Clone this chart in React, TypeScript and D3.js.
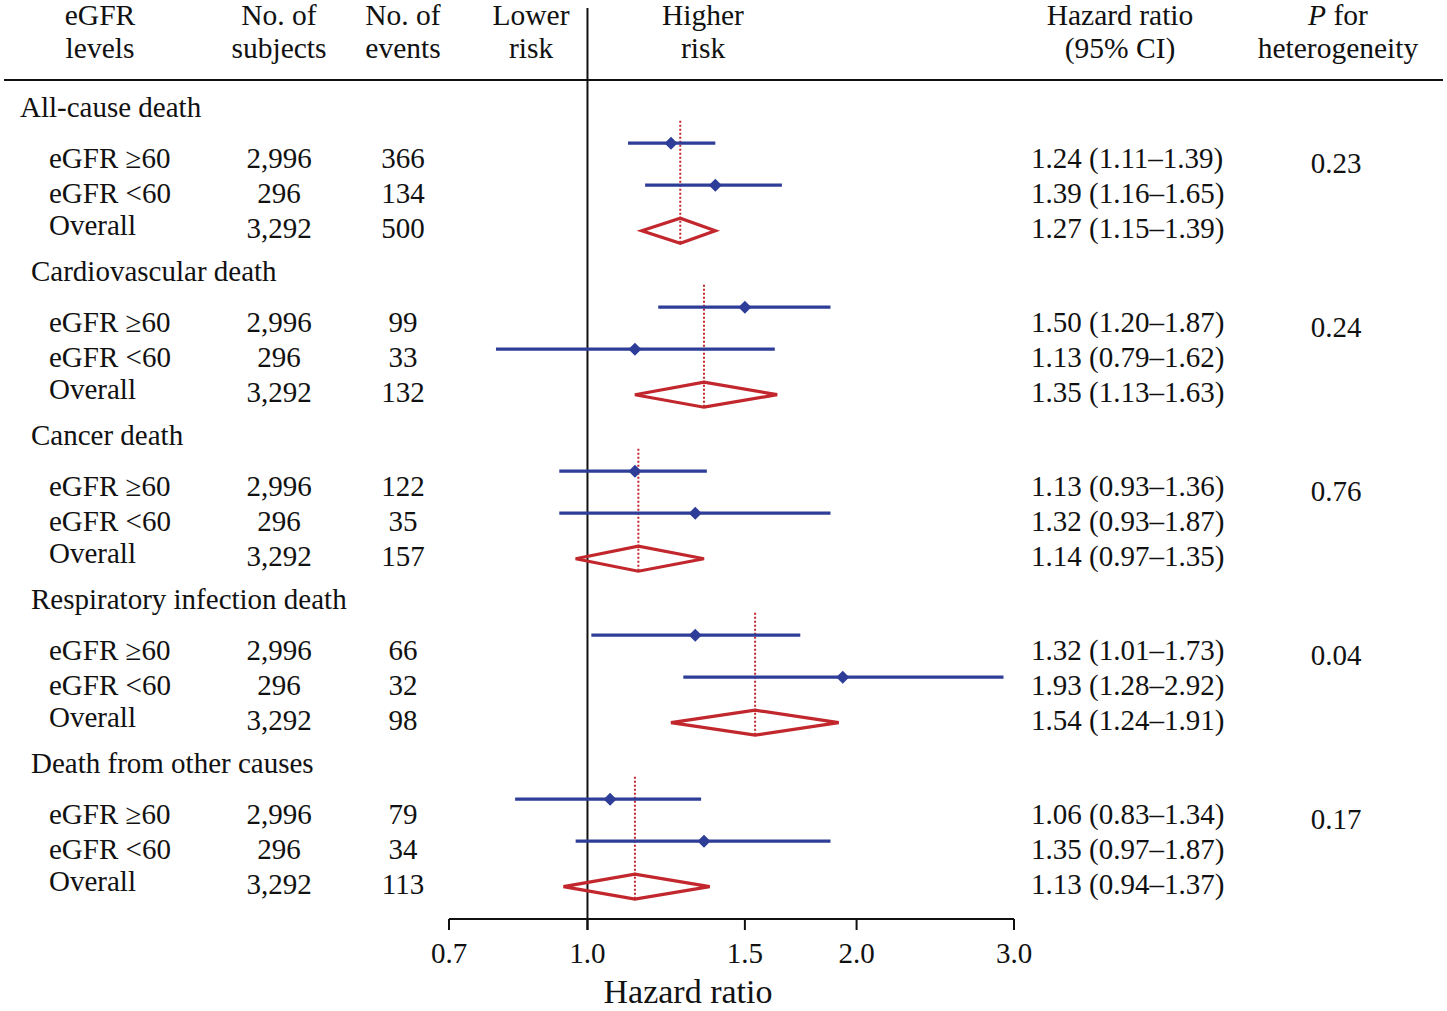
import React from "react";
import * as d3 from "d3";

// Mortality outcomes, each split by eGFR level plus the pooled estimate.
const OUTCOMES = [
  "All-cause death",
  "Cardiovascular death",
  "Cancer death",
  "Respiratory infection death",
  "Death from other causes",
];
const SUBGROUPS = ["eGFR \u226560", "eGFR <60", "Overall"];
const SUBJECTS = ["2,996", "296", "3,292"];
const EVENTS = [
  [366, 134, 500],
  [99, 33, 132],
  [122, 35, 157],
  [66, 32, 98],
  [79, 34, 113],
];
const HR = [
  [1.24, 1.39, 1.27],
  [1.5, 1.13, 1.35],
  [1.13, 1.32, 1.14],
  [1.32, 1.93, 1.54],
  [1.06, 1.35, 1.13],
];
const LO = [
  [1.11, 1.16, 1.15],
  [1.2, 0.79, 1.13],
  [0.93, 0.93, 0.97],
  [1.01, 1.28, 1.24],
  [0.83, 0.97, 0.94],
];
const HI = [
  [1.39, 1.65, 1.39],
  [1.87, 1.62, 1.63],
  [1.36, 1.87, 1.35],
  [1.73, 2.92, 1.91],
  [1.34, 1.87, 1.37],
];
const P_HET = ["0.23", "0.24", "0.76", "0.04", "0.17"];
const TICKS = [0.7, 1.0, 1.5, 2.0, 3.0];

const W = 1447;
const H = 1011;
const FONT = "'Liberation Serif', 'Times New Roman', serif";
const FS = 29;
const FS_HEAD = 29.5;
const BLUE = "#2E3D98";
const RED = "#C1272D";

// layout
const GROUP_TOP = 116.7; // baseline of first outcome label
const GROUP_STEP = 164;
const TEXT_DY = [51.5, 86.5, 121]; // subgroup text baselines, rel. to outcome label
const MARK_DY = [26.5, 68.5, 114]; // plot marks, rel. to outcome label
const AXIS_Y = 919;

const fmt = d3.format(".2f");

const App: React.FC = () => {
  const x = d3.scaleLog().domain([0.7, 3.0]).range([449, 1014]);
  const gy = (g: number) => GROUP_TOP + g * GROUP_STEP;

  const text = (
    key: string,
    tx: number,
    ty: number,
    label: React.ReactNode,
    anchor: "start" | "middle" | "end" = "start",
    size = FS
  ) => (
    <text key={key} x={tx} y={ty} textAnchor={anchor} fontSize={size} fontFamily={FONT} fill="#111">
      {label}
    </text>
  );

  const headers: [string, string, number][] = [
    ["eGFR", "levels", 100],
    ["No. of", "subjects", 279],
    ["No. of", "events", 403],
    ["Lower", "risk", 531],
    ["Higher", "risk", 703],
    ["Hazard ratio", "(95% CI)", 1120],
  ];

  return (
    <svg width={W} height={H} style={{ position: "absolute", left: 0, top: 0, background: "#fff" }}>
      {/* column headers */}
      {headers.map(([a, b, cx], i) => (
        <g key={`h${i}`}>
          {text(`ha${i}`, cx, 25, a, "middle", FS_HEAD)}
          {text(`hb${i}`, cx, 58, b, "middle", FS_HEAD)}
        </g>
      ))}
      <text x={1338} y={25} textAnchor="middle" fontSize={FS_HEAD} fontFamily={FONT} fill="#111">
        <tspan fontStyle="italic">P</tspan> for
      </text>
      {text("hp2", 1338, 58, "heterogeneity", "middle", FS_HEAD)}

      <line x1={4} x2={1443} y1={80} y2={80} stroke="#111" strokeWidth={2} />
      <line x1={x(1)} x2={x(1)} y1={8} y2={AXIS_Y + 11} stroke="#111" strokeWidth={2} />

      {OUTCOMES.map((name, g) => {
        const y0 = gy(g);
        return (
          <g key={name}>
            {text(`o${g}`, g === 0 ? 20 : 31, y0, name)}
            {SUBGROUPS.map((s, r) => (
              <g key={s}>
                {text(`s${g}${r}`, 49, y0 + TEXT_DY[r] - (r === 2 ? 3 : 0), s)}
                {text(`n${g}${r}`, 279, y0 + TEXT_DY[r], SUBJECTS[r], "middle")}
                {text(`e${g}${r}`, 403, y0 + TEXT_DY[r], EVENTS[g][r], "middle")}
                {text(
                  `hr${g}${r}`,
                  1031,
                  y0 + TEXT_DY[r],
                  `${fmt(HR[g][r])} (${fmt(LO[g][r])}\u2013${fmt(HI[g][r])})`
                )}
              </g>
            ))}
            {text(`p${g}`, 1336, y0 + TEXT_DY[0] + 5, P_HET[g], "middle")}

            {/* pooled estimate reference */}
            <line
              x1={x(HR[g][2])}
              x2={x(HR[g][2])}
              y1={y0 + 4}
              y2={y0 + MARK_DY[2] + 14}
              stroke={RED}
              strokeWidth={2}
              strokeDasharray="2 2"
            />

            {/* subgroup CIs */}
            {[0, 1].map((r) => {
              const cy = y0 + MARK_DY[r];
              const cx = x(HR[g][r]);
              return (
                <g key={`ci${r}`}>
                  <line x1={x(LO[g][r])} x2={x(HI[g][r])} y1={cy} y2={cy} stroke={BLUE} strokeWidth={3.2} />
                  <path d={`M${cx - 6.5},${cy}L${cx},${cy - 6.5}L${cx + 6.5},${cy}L${cx},${cy + 6.5}Z`} fill={BLUE} />
                </g>
              );
            })}

            {/* overall diamond */}
            {(() => {
              const cy = y0 + MARK_DY[2];
              const cx = x(HR[g][2]);
              return (
                <path
                  d={`M${x(LO[g][2])},${cy}L${cx},${cy - 12.5}L${x(HI[g][2])},${cy}L${cx},${cy + 12.5}Z`}
                  fill="none"
                  stroke={RED}
                  strokeWidth={3.2}
                  strokeLinejoin="miter"
                />
              );
            })()}
          </g>
        );
      })}

      {/* x axis */}
      <line x1={x(0.7)} x2={x(3.0)} y1={AXIS_Y} y2={AXIS_Y} stroke="#111" strokeWidth={2} />
      {TICKS.map((t) => (
        <g key={t}>
          <line x1={x(t)} x2={x(t)} y1={AXIS_Y} y2={AXIS_Y + 11} stroke="#111" strokeWidth={2} />
          {text(`t${t}`, x(t), 963, d3.format(".1f")(t), "middle", 29)}
        </g>
      ))}
      {text("xl", 688, 1003, "Hazard ratio", "middle", 34)}
    </svg>
  );
};

export default App;
